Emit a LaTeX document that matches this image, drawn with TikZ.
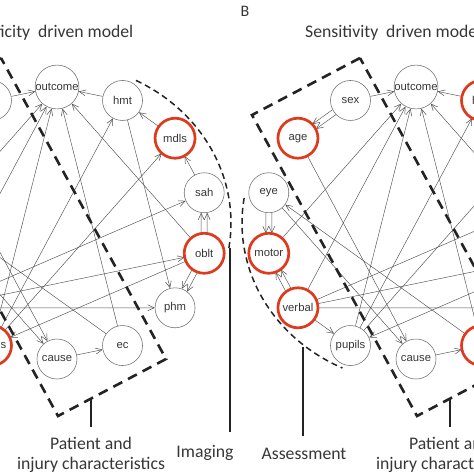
\documentclass[tikz,border=0pt]{standalone}
\usepackage{fontspec}
\setmainfont{Carlito}
\newfontfamily\nodefont{Liberation Sans}
\usetikzlibrary{arrows.meta,calc}
\pgfdeclarelayer{background}
\pgfsetlayers{background,main}
\definecolor{nodered}{RGB}{222,58,30}
\definecolor{edgegray}{RGB}{80,80,80}
\definecolor{textgray}{RGB}{55,55,55}
\definecolor{boxgray}{RGB}{35,35,35}
\definecolor{circgray}{RGB}{110,110,110}

\newcommand\graphedges[1]{%
  \foreach \src/\dst in {sex/outcome, hmt/outcome, motor/outcome, pupils/outcome,
      verbal/outcome, ec/outcome, oblt/outcome, mdls/hmt, pupils/hmt, sah/mdls,
      pupils/mdls, verbal/sah, verbal/oblt, hmt/phm, verbal/phm, cause/ec,
      age/cause, eye/cause, oblt/pupils, verbal/pupils, ec/eye}
    {\draw[edge] (#1\src) -- (#1\dst);}
  \foreach \src/\dst in {oblt/sah, oblt/phm, eye/motor, verbal/motor, sex/age}
    {\draw[edge, shorten <=20pt, shorten >=20pt]
        ($(#1\src.center)!3pt!90:(#1\dst.center)$) -- ($(#1\dst.center)!3pt!-90:(#1\src.center)$);
     \draw[edge, shorten <=20pt, shorten >=20pt]
        ($(#1\src.center)!3pt!-90:(#1\dst.center)$) -- ($(#1\dst.center)!3pt!90:(#1\src.center)$);}
}

\newcommand\drawpanel[2]{%
  \begin{scope}[xshift=#2pt]
    \foreach \n/\k in {outcome/0, hmt/1, mdls/2, sah/3, oblt/4, phm/5, ec/6,
        cause/7, pupils/8, verbal/9, motor/10, eye/11, age/12, sex/13}
      {\pgfmathsetmacro\absx{#2+57+151*sin(\k*360/14)}%
       \pgfmathparse{(\absx>-25)&&(\absx<499)?1:0}%
       \ifnum\pgfmathresult=1 \def\lbl{\n}\else\def\lbl{}\fi
       \node[gnode] (#1\n) at ({57+151*sin(\k*360/14)}, {223-136*cos(\k*360/14)}) {\lbl};}
    % patient and injury characteristics box
    \draw[thickdash] (1,58) -- (-107,115) -- (58,416) -- (166,359) -- cycle;
    % imaging arc
    \draw[arcdash] plot[domain=63:-9, samples=60, smooth] ({57+174*cos(\x)}, {223-160*sin(\x)});
    % assessment arc
    \draw[arcdash] plot[domain=171:245, samples=60, smooth] ({57+174*cos(\x)}, {223-160*sin(\x)});
    % pointers
    \coordinate (#1pa) at (91,399);
    \coordinate (#1pb) at (91,427);
    \draw[pointer] (#1pa) -- (#1pb);
    \coordinate (#1ia) at (230,248);
    \coordinate (#1ib) at (230,432);
    \draw[pointer] (#1ia) -- (#1ib);
    \coordinate (#1aa) at (-56,347);
    \coordinate (#1ab) at (-56,436);
    \draw[pointer] (#1aa) -- (#1ab);
    \node[label text, anchor=base] (#1pt1) at (91,449) {Patient and};
    \node[label text, anchor=base] (#1pt2) at (91,469.5) {injury characteristics};
  \end{scope}
}

\begin{document}
\begin{tikzpicture}[x=1pt,y=-1pt,
  gnode/.style={circle, draw=circgray, line width=0.55pt, fill=white,
    minimum size=40pt, inner sep=0pt, text=textgray,
    font=\nodefont\fontsize{11.3}{12}\selectfont},
  redring/.style={draw=nodered, line width=2.7pt},
  edge/.style={draw=edgegray, line width=0.45pt,
    -{Straight Barb[length=6.5pt,width=6pt,line width=0.5pt]}},
  thickdash/.style={draw=boxgray, line width=2.6pt, dash pattern=on 10pt off 6.5pt},
  arcdash/.style={draw=boxgray, line width=1.5pt, dash pattern=on 6pt off 4pt},
  pointer/.style={draw=boxgray, line width=1.3pt},
  label text/.style={text=textgray, inner sep=0pt, font=\fontsize{17.7}{21}\selectfont},
  title text/.style={text=textgray, inner sep=0pt, font=\fontsize{17.7}{21}\selectfont}
]
\useasboundingbox (0,0) rectangle (474,474);
\clip (0,0) rectangle (474,474);

\drawpanel{L}{0}
\drawpanel{R}{359}

% bottom labels that fall inside the picture
\node[label text, anchor=base] (img) at (205,457) {Imaging};
\node[label text, anchor=base] (ass) at (304,459) {Assessment};

% highlighted variables
\foreach \n in {mdls, oblt, pupils}
  {\draw[redring] (L\n) circle (20pt);}
\foreach \n in {age, motor, verbal, hmt, ec}
  {\draw[redring] (R\n) circle (20pt);}

\begin{pgfonlayer}{background}
  \fill[white] (0,0) rectangle (474,474);
  \graphedges{L}
  \graphedges{R}
\end{pgfonlayer}

% titles
\node[title text, anchor=base east] (tL) at (133.5,37.5) {Specificity\hspace{0.45em}driven model};
\node[title text, anchor=base west] (tR) at (305,37.5) {Sensitivity\hspace{0.45em}driven model};
\node[title text, anchor=base, font=\fontsize{16}{18}\selectfont] (tB) at (245,16.7) {B};
\end{tikzpicture}
\end{document}
